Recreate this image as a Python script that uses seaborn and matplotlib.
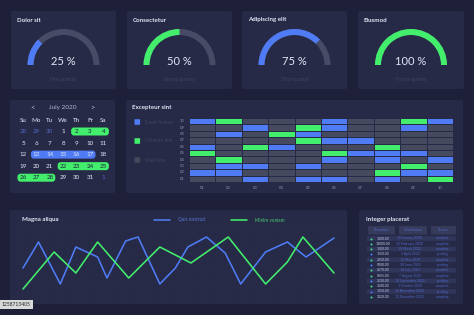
import calendar
import numpy as np
import pandas as pd
import matplotlib
matplotlib.use("Agg")
import matplotlib.pyplot as plt
from matplotlib.patches import FancyBboxPatch, Wedge
from matplotlib.colors import ListedColormap
import seaborn as sns

# ---------------- data ----------------
gauge_titles = ["Dolor sit", "Consectetur", "Adipiscing elit", "Eiusmod"]
gauge_values = [25, 50, 75, 100]
gauge_subtitles = ["First quarter", "Second quarter", "Third quarter", "Fourth quarter"]

cal_year, cal_month = 2020, 7
cal_title = "July 2020"
weekday_labels = ["Su", "Mo", "Tu", "We", "Th", "Fr", "Sa"]
cal_green_ranges = [(2, 4), (22, 25), (26, 28)]
cal_blue_ranges = [(13, 17)]

heat_cols = ["01", "02", "03", "04", "05", "06", "07", "08", "09", "10"]
heat_rows = ["10", "09", "08", "07", "06", "05", "04", "03", "02", "01"]
heat_values = [
    [1, 2, 0, 0, 0, 1, 0, 0, 2, 1],
    [0, 0, 1, 0, 2, 1, 0, 0, 1, 0],
    [0, 1, 0, 2, 1, 0, 0, 0, 0, 0],
    [0, 0, 0, 0, 2, 1, 1, 0, 0, 0],
    [1, 0, 2, 1, 0, 0, 0, 2, 0, 0],
    [2, 0, 0, 0, 0, 2, 1, 1, 1, 0],
    [0, 2, 0, 0, 0, 1, 0, 1, 0, 1],
    [0, 1, 1, 0, 1, 0, 0, 0, 2, 0],
    [1, 1, 0, 0, 0, 0, 0, 2, 1, 1],
    [0, 0, 1, 0, 1, 1, 0, 1, 0, 2],
]
heat_legend = ["Event feature", "Ultimate fine", "Wait time"]

blue_x = [0, 5, 12, 17, 24, 27, 33, 37, 44, 49, 53, 59, 65, 70, 78, 85, 91, 100]
blue_y = [32, 58, 16, 53, 43, 22, 59, 63, 16, 32, 53, 63, 47, 16, 48, 58, 43, 62]
green_x = [0, 10, 17, 24, 34, 44, 54, 66, 78, 85, 90, 100]
green_y = [11, 48, 27, 58, 22, 53, 37, 63, 16, 38, 63, 27]
series_names = ["Quis nostrud", "Minim veniam"]

table_headers = ["Phasellus", "Vestibulum", "Status"]
table_amounts = ["1000.00", "14000.00", "1500.00", "1250.00", "2250.00", "5000.00",
                 "4570.00", "9055.00", "3530.00", "3500.00", "1250.00", "3120.00"]
table_dates = ["10 January 2020", "12 February 2020", "15 March 2020", "3 April 2020",
               "16 May 2020", "30 June 2020", "14 July 2020", "7 August 2020",
               "14 September 2020", "1 October 2020", "10 November 2020", "12 December 2020"]
table_status = ["complete", "complete", "complete", "pending", "complete", "pending",
                "complete", "complete", "pending", "complete", "pending", "complete"]

# ---------------- style ----------------
BG = "#1d2038"
CARD = "#262a47"
BLUE = "#4f7cf4"
GREEN = "#42ee6c"
GRAY = "#454a5e"
TRACK = "#474b65"
TXT = "#e3e7f7"
FAINT = "#3f4466"

sns.set_theme(style="dark")
plt.rcParams["font.family"] = ["Lato", "DejaVu Sans"]

W, H = 474, 315
fig = plt.figure(figsize=(W / 100, H / 100), dpi=100, facecolor=BG)


def px_axes(x0, y0, x1, y1):
    return fig.add_axes([x0 / W, 1 - y1 / H, (x1 - x0) / W, (y1 - y0) / H])


ax0 = fig.add_axes([0, 0, 1, 1])
ax0.set_xlim(0, W)
ax0.set_ylim(H, 0)
ax0.axis("off")
ax0.set_facecolor(BG)


def card(x0, y0, x1, y1):
    ax0.add_patch(FancyBboxPatch((x0, y0), x1 - x0, y1 - y0,
                                 boxstyle="round,pad=0,rounding_size=2",
                                 fc=CARD, ec="none", zorder=1))


# ---------------- gauges ----------------
gauge_cards = [(11, 11, 116, 89), (127, 11, 232, 89), (242, 11, 347, 89), (358, 11, 464, 89)]
gauge_colors = [BLUE, GREEN, BLUE, GREEN]
for (x0, y0, x1, y1), title, val, sub, col in zip(gauge_cards, gauge_titles, gauge_values,
                                                   gauge_subtitles, gauge_colors):
    card(x0, y0, x1, y1)
    cx, cy, r = (x0 + x1) / 2, 65, 36
    ax0.text(x0 + 6, 20, title, color=TXT, fontsize=4.4, fontweight="bold", va="center")
    ax0.add_patch(Wedge((cx, cy), r, 180, 360, width=6, fc=TRACK, ec="none", zorder=2))
    ax0.add_patch(Wedge((cx, cy), r, 180, 180 + 180 * val / 100, width=6, fc=col,
                        ec="none", zorder=3))
    ax0.text(cx, 61.5, f"{val} %", color=TXT, fontsize=8, ha="center", va="center", zorder=4)
    ax0.text(cx, 79, sub, color=FAINT, fontsize=3.4, ha="center", va="center", zorder=4)

# ---------------- calendar ----------------
card(10, 100, 115, 193)
ax0.text(63, 107, cal_title, color="#aeb4d4", fontsize=4.6, ha="center", va="center")
ax0.text(33, 107, "<", color="#aeb4d4", fontsize=5.5, ha="center", va="center")
ax0.text(92, 107, ">", color="#aeb4d4", fontsize=5.5, ha="center", va="center")
col_x = [23 + i * 13.4 for i in range(7)]
row_y = [131.5 + i * 11.55 for i in range(6)]
for i, wd in enumerate(weekday_labels):
    ax0.text(col_x[i], 120, wd, color=TXT, fontsize=4.5, ha="center", va="center")

cal = calendar.Calendar(firstweekday=6)
weeks = list(cal.monthdatescalendar(cal_year, cal_month))[:6]


def in_ranges(d, ranges):
    return any(a <= d <= b for a, b in ranges)


for ranges, col in [(cal_green_ranges, GREEN), (cal_blue_ranges, BLUE)]:
    for a, b in ranges:
        for wi, week in enumerate(weeks):
            idx = [k for k, d in enumerate(week) if d.month == cal_month and a <= d.day <= b]
            if idx:
                xa, xb = col_x[min(idx)] - 5.5, col_x[max(idx)] + 5.5
                ax0.add_patch(FancyBboxPatch((xa, row_y[wi] - 4), xb - xa, 8,
                                             boxstyle="round,pad=0,rounding_size=3",
                                             fc=col, ec="none", zorder=2))

for wi, week in enumerate(weeks):
    for k, d in enumerate(week):
        if d.month != cal_month:
            c = "#5468c9"
        elif in_ranges(d.day, cal_green_ranges):
            c = "#1d2038"
        else:
            c = TXT
        ax0.text(col_x[k], row_y[wi], str(d.day), color=c, fontsize=4.5,
                 ha="center", va="center", zorder=4)

# ---------------- heatmap ----------------
card(126, 100, 463, 193)
ax0.text(132, 108, "Excepteur sint", color=TXT, fontsize=4.4, fontweight="bold", va="center")
for i, (lab, col) in enumerate(zip(heat_legend, [BLUE, GREEN, GRAY])):
    yy = 122 + i * 19
    ax0.add_patch(FancyBboxPatch((134.5, yy - 2.8), 5.6, 5.6, boxstyle="round,pad=0,rounding_size=0.6",
                                 fc=col, ec="none", zorder=2))
    ax0.text(145, yy, lab, color=FAINT, fontsize=3.4, va="center")

axh = px_axes(189, 118, 453, 182)
heat_df = pd.DataFrame(heat_values, index=heat_rows, columns=heat_cols)
sns.heatmap(heat_df, ax=axh, cmap=ListedColormap([GRAY, BLUE, GREEN]), vmin=-0.5, vmax=2.5,
            cbar=False, linewidths=0.7, linecolor=CARD,
            xticklabels=heat_cols, yticklabels=heat_rows)
axh.tick_params(length=0, labelsize=3, colors="#8d93b5", pad=3)
axh.set_xlabel("")
axh.set_ylabel("")
for t in axh.get_yticklabels():
    t.set_rotation(0)

# ---------------- line chart ----------------
card(10, 210, 347, 304)
ax0.text(22, 220, "Magna aliqua", color=TXT, fontsize=4.4, fontweight="bold", va="center")
axl = px_axes(15, 226, 342, 298)
axl.set_facecolor("none")
gx, gy = np.meshgrid(np.arange(-2, 103, 1.6), np.arange(-8, 76, 5.5))
axl.scatter(gx.ravel(), gy.ravel(), s=0.15, color="#343a5e", linewidths=0, zorder=0)
line_df = pd.concat([
    pd.DataFrame({"x": blue_x, "y": blue_y, "series": series_names[0]}),
    pd.DataFrame({"x": green_x, "y": green_y, "series": series_names[1]}),
])
sns.lineplot(data=line_df, x="x", y="y", hue="series", palette=[BLUE, GREEN],
             sort=False, estimator=None, linewidth=1.15, ax=axl)
axl.set_xlim(-2.57, 102.57)
axl.set_ylim(2, 74)
axl.axis("off")
leg = axl.legend(loc="center left", bbox_to_anchor=(150 / W, 1 - 220 / H),
                 bbox_transform=fig.transFigure, ncol=2, frameon=False, fontsize=3.4,
                 handlelength=3.3, handletextpad=1.8, columnspacing=5.5,
                 labelcolor=["#5a73d6", "#49c96f"])

# ---------------- table ----------------
card(359, 210, 463, 304)
ax0.text(366, 219, "Integer placerat", color=TXT, fontsize=4.4, fontweight="bold", va="center")
hdr_boxes = [(368, 395), (399, 427), (431, 456)]
for (a, b), h in zip(hdr_boxes, table_headers):
    ax0.add_patch(FancyBboxPatch((a, 226), b - a, 8.5, boxstyle="round,pad=0,rounding_size=0.8",
                                 fc="#363b5b", ec="none", zorder=2))
    ax0.text((a + b) / 2, 230.3, h, color="#4e66c4", fontsize=2.8, ha="center", va="center", zorder=3)
for i in range(len(table_amounts)):
    yy = 238.5 + i * 5.3
    if i % 2 == 0:
        ax0.add_patch(FancyBboxPatch((367, yy - 2.3), 89, 4.6, boxstyle="round,pad=0,rounding_size=0.5",
                                     fc="#30355a", ec="none", zorder=2))
    dot_c = BLUE if table_status[i] == "pending" else "#3fd78b"
    ax0.scatter([371], [yy], s=2.2, color=dot_c, zorder=3, linewidths=0)
    ax0.text(383, yy, table_amounts[i], color="#c9cde6", fontsize=2.4, ha="center", va="center", zorder=3)
    ax0.text(410, yy, table_dates[i], color="#4e66c4", fontsize=2.4, ha="center", va="center", zorder=3)
    ax0.text(443, yy, table_status[i], color="#4e66c4", fontsize=2.4, ha="center", va="center", zorder=3)

# stock id label
ax0.text(2, 304.5, "1258713405", color="#222222", fontsize=3.6, va="center", zorder=5,
         bbox=dict(boxstyle="square,pad=0.35", fc="#d9d9d9", ec="none"))

fig.savefig("out.png", dpi=100, facecolor=BG)
